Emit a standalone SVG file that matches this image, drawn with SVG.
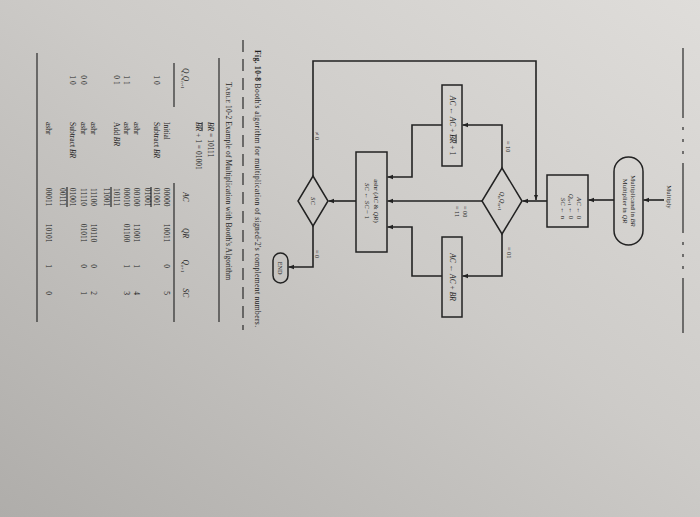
<svg xmlns="http://www.w3.org/2000/svg" width="700" height="517" viewBox="0 0 700 517">
<defs>
  <linearGradient id="bg" x1="1" y1="0" x2="0" y2="1">
    <stop offset="0" stop-color="#dfddda"/>
    <stop offset="0.45" stop-color="#cdcbc8"/>
    <stop offset="1" stop-color="#afadaa"/>
  </linearGradient>
  <marker id="ah" viewBox="0 0 10 10" refX="10" refY="5" markerWidth="5.5" markerHeight="5.5" markerUnits="userSpaceOnUse" orient="auto">
    <path d="M0,1 L10,5 L0,9 z" fill="#222"/>
  </marker>
  <style>
    .ln{fill:none;stroke:#222;stroke-width:1.6;marker-end:url(#ah)}
    .sh{fill:none;stroke:#222;stroke-width:1.5}
    .rule{stroke:#2a2a2a;stroke-width:1.2}
    text{font-family:"Liberation Serif","DejaVu Serif",serif;fill:#1f1f1f;font-size:7.5px}
    .c{text-anchor:middle}
    .e{text-anchor:end}
    .i{font-style:italic}
    .s{font-size:6.7px}
    .lb{font-size:6.2px}
    .ov{text-decoration:overline}
  </style>
</defs>
<rect width="700" height="517" fill="url(#bg)"/>
<g transform="translate(700,0) rotate(90)">
  <!-- page edge rules -->
  <path d="M48,17 L333,17" class="rule" stroke-dasharray="70,9,3,9,3,9,3,9"/>
  <path d="M40,457 L330,457" class="rule" stroke-dasharray="12,7"/>

  <g id="connectors">
    <path d="M200,36 L200,56.5" class="ln"/>
    <path d="M200,86 L200,111.5" class="ln"/>
    <path d="M201,153 L201,177.5" class="ln"/>
    <path d="M176,387 L61,387 L61,164 L200,164" class="ln"/>
    <path d="M168,198 L125,198 L125,237.5" class="ln"/>
    <path d="M201,218 L201,312.5" class="ln"/>
    <path d="M234,198 L276,198 L276,237.5" class="ln"/>
    <path d="M125,258 L125,288 L177,288 L177,312.5" class="ln"/>
    <path d="M276,258 L276,288 L227,288 L227,312.5" class="ln"/>
    <path d="M201,344 L201,371.5" class="ln"/>
    <path d="M226,387 L267,387 L267,411.5" class="ln"/>
    <text x="141" y="194" class="lb">= 10</text>
    <text x="206" y="237" class="lb">= 00</text>
    <text x="206" y="245" class="lb">= 11</text>
    <text x="247" y="193" class="lb">= 01</text>
    <text x="132" y="385" class="lb">≠ 0</text>
    <text x="250" y="385" class="lb">= 0</text>
  </g>

  <g id="multiply">
    <text x="197" y="33" class="c s">Multiply</text>
  </g>
  <g id="start">
    <rect x="157" y="57" width="88" height="29" rx="14.5" class="sh"/>
    <text x="201" y="69.5" class="c s">Multiplicand in <tspan class="i">BR</tspan></text>
    <text x="201" y="77.5" class="c s">Multiplier in <tspan class="i">QR</tspan></text>
  </g>
  <g id="init">
    <rect x="175" y="112" width="52" height="41" class="sh"/>
    <text x="219" y="123" class="e s"><tspan class="i">AC</tspan> ← 0</text>
    <text x="219" y="131" class="e s"><tspan class="i">Q</tspan><tspan font-size="4.5" dy="1.5">n+1</tspan><tspan dy="-1.5"> ← 0</tspan></text>
    <text x="219" y="139" class="e s"><tspan class="i">SC</tspan> ← <tspan class="i">n</tspan></text>
  </g>
  <g id="decision-q">
    <polygon points="168,198 201,178 234,198 201,218" class="sh"/>
    <text x="201" y="200.5" class="c s"><tspan class="i">Q</tspan><tspan font-size="4.5" dy="1.5">n</tspan><tspan class="i" dy="-1.5">Q</tspan><tspan font-size="4.5" dy="1.5">n+1</tspan></text>
  </g>
  <g id="subtract">
    <rect x="85" y="238" width="81" height="20" class="sh"/>
    <text x="125.5" y="250.5" class="c" font-size="7.2"><tspan class="i">AC</tspan> ← <tspan class="i">AC</tspan> + <tspan class="i ov">BR</tspan> + 1</text>
  </g>
  <g id="add">
    <rect x="237" y="238" width="80" height="20" class="sh"/>
    <text x="277" y="250.5" class="c" font-size="7.2"><tspan class="i">AC</tspan> ← <tspan class="i">AC</tspan> + <tspan class="i">BR</tspan></text>
  </g>
  <g id="shift">
    <rect x="152" y="313" width="100" height="31" class="sh"/>
    <text x="201" y="326.5" class="c s">ashr (<tspan class="i">AC</tspan> &amp; <tspan class="i">QR</tspan>)</text>
    <text x="201" y="335" class="c s"><tspan class="i">SC</tspan> ← <tspan class="i">SC</tspan> − 1</text>
  </g>
  <g id="decision-sc">
    <polygon points="176,387 201,372 226,387 201,402" class="sh"/>
    <text x="201" y="389.5" class="c s"><tspan class="i">SC</tspan></text>
  </g>
  <g id="end">
    <rect x="253" y="412" width="30" height="15" rx="7.5" class="sh"/>
    <text x="268" y="421.8" class="c lb">END</text>
  </g>

  <g id="caption">
    <text x="50" y="445.5" font-size="7.5" textLength="277" lengthAdjust="spacing"><tspan font-weight="bold">Fig. 10-8</tspan>   Booth's algorithm for multiplication of signed-2's complement numbers.</text>
  </g>

  <g id="table">
    <text x="82" y="474.5" textLength="198" lengthAdjust="spacing">T<tspan font-size="6">ABLE</tspan> 10-2   Example of Multiplication with Booth's Algorithm</text>
    <line x1="58" y1="481" x2="322" y2="481" class="rule"/>
    <text x="122" y="492.5"><tspan class="i">BR</tspan> = 10111</text>
    <text x="122" y="504.5"><tspan class="i ov">BR</tspan> + 1 = 01001</text>
    <text x="68" y="517.5"><tspan class="i">Q</tspan><tspan font-size="4.8" dy="1.5">n</tspan><tspan class="i" dy="-1.5">Q</tspan><tspan font-size="4.8" dy="1.5">n+1</tspan></text>
    <text x="197" y="517.5" class="c i">AC</text>
    <text x="233" y="517.5" class="c i">QR</text>
    <text x="266" y="517.5" class="c"><tspan class="i">Q</tspan><tspan font-size="4.8" dy="1.5">n+1</tspan></text>
    <text x="293" y="517.5" class="c i">SC</text>
    <line x1="63" y1="526" x2="107" y2="526" class="rule"/>
    <line x1="183" y1="526" x2="322" y2="526" class="rule"/>

    <!-- rows -->
    <text x="122" y="536.5">Initial</text>
    <text x="197" y="536.5" class="c">00000</text><text x="233" y="536.5" class="c">10011</text><text x="266" y="536.5" class="c">0</text><text x="293" y="536.5" class="c">5</text>

    <text x="80" y="546.5" class="c">1  0</text>
    <text x="122" y="546.5">Subtract <tspan class="i">BR</tspan></text>
    <text x="197" y="546.5" class="c">01001</text>
    <line x1="187" y1="549" x2="207" y2="549" class="rule"/>
    <text x="197" y="555.5" class="c">01001</text>

    <text x="122" y="566.5">ashr</text>
    <text x="197" y="566.5" class="c">00100</text><text x="233" y="566.5" class="c">11001</text><text x="266" y="566.5" class="c">1</text><text x="293" y="566.5" class="c">4</text>

    <text x="80" y="576.5" class="c">1  1</text>
    <text x="122" y="576.5">ashr</text>
    <text x="197" y="576.5" class="c">00010</text><text x="233" y="576.5" class="c">01100</text><text x="266" y="576.5" class="c">1</text><text x="293" y="576.5" class="c">3</text>

    <text x="80" y="586.5" class="c">0  1</text>
    <text x="122" y="586.5">Add <tspan class="i">BR</tspan></text>
    <text x="197" y="586.5" class="c">10111</text>
    <line x1="187" y1="589" x2="207" y2="589" class="rule"/>
    <text x="197" y="596" class="c">11001</text>

    <text x="122" y="609.5">ashr</text>
    <text x="197" y="609.5" class="c">11100</text><text x="233" y="609.5" class="c">10110</text><text x="266" y="609.5" class="c">0</text><text x="293" y="609.5" class="c">2</text>

    <text x="80" y="619.5" class="c">0  0</text>
    <text x="122" y="619.5">ashr</text>
    <text x="197" y="619.5" class="c">11110</text><text x="233" y="619.5" class="c">01011</text><text x="266" y="619.5" class="c">0</text><text x="293" y="619.5" class="c">1</text>

    <text x="80" y="630.5" class="c">1  0</text>
    <text x="122" y="630.5">Subtract <tspan class="i">BR</tspan></text>
    <text x="197" y="630.5" class="c">01001</text>
    <line x1="187" y1="633" x2="207" y2="633" class="rule"/>
    <text x="197" y="640" class="c">00111</text>

    <text x="122" y="654.5">ashr</text>
    <text x="197" y="654.5" class="c">00011</text><text x="233" y="654.5" class="c">10101</text><text x="266" y="654.5" class="c">1</text><text x="293" y="654.5" class="c">0</text>

    <line x1="53" y1="663" x2="322" y2="663" class="rule"/>
  </g>
</g>
</svg>
